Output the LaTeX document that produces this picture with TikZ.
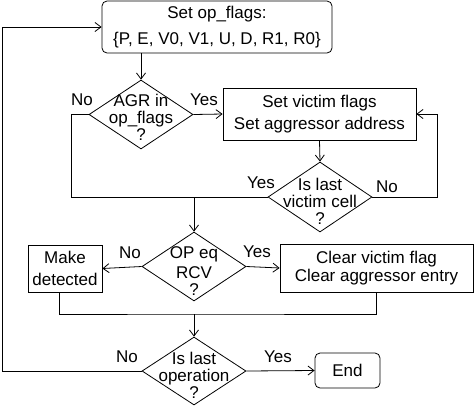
\documentclass[tikz,border=0pt]{standalone}
\usepackage{fontspec}
\setmainfont{Liberation Sans}
\usetikzlibrary{shapes.geometric,arrows.meta}

\begin{document}
\begin{tikzpicture}[x=1pt,y=-1pt,
    line width=0.8pt,
    box/.style={draw, rectangle, inner sep=0pt, align=center,
      font=\fontsize{17}{22}\selectfont},
    rbox/.style={box, rounded corners=5pt},
    dec/.style={draw, diamond, inner sep=0pt},
    dtxt/.style={inner sep=0pt, align=center,
      font=\fontsize{17}{17}\selectfont},
    lbl/.style={inner sep=0pt, font=\fontsize{17}{17}\selectfont},
    arr/.style={-{Straight Barb[length=6pt,width=9pt]}}]

  % Fix the size of the picture
  \useasboundingbox (0,0) rectangle (474,408);

  % Boxes
  \node[rbox, minimum width=230, minimum height=52] (ops) at (217,27)
    {Set op\_flags:\\[4pt] \{P, E, V0, V1, U, D, R1, R0\}};
  \node[box, minimum width=193, minimum height=52] (setv) at (319.5,114)
    {Set victim flags\\ Set aggressor address};
  \node[box, minimum width=74, minimum height=47] (make) at (65,268.5)
    {Make\\ detected};
  \node[box, minimum width=193, minimum height=48] (clr) at (376.5,268)
    {Clear victim flag\\[-4pt] Clear aggressor entry};
  \node[rbox, minimum width=65, minimum height=35] (end) at (347.5,370.5)
    {End};

  % Decisions
  \node[dec, minimum width=104, minimum height=69] (agr) at (141,114.5) {};
  \node[dec, minimum width=104, minimum height=70] (last) at (320,197) {};
  \node[dec, minimum width=104, minimum height=69] (rcv) at (194,266.5) {};
  \node[dec, minimum width=104, minimum height=68] (lastop) at (194,371) {};

  % Texts of the decisions
  \node[dtxt, yshift=-3pt] (agrtxt) at (agr) {AGR in\\ op\_flags\\ ?};
  \node[dtxt, yshift=-4pt] (lasttxt) at (last) {Is last\\ victim cell\\ ?};
  \node[dtxt, yshift=-5pt] (rcvtxt) at (rcv) {OP eq\\[3pt] RCV\\ ?};
  \node[dtxt, yshift=-4pt] (lastoptxt) at (lastop) {Is last\\ operation\\ ?};

  % Yes / No labels
  \node[lbl] (agrno) at (82,100) {No};
  \node[lbl] (agryes) at (204,100) {Yes};
  \node[lbl] (lastyes) at (261,183) {Yes};
  \node[lbl] (lastno) at (387,187) {No};
  \node[lbl] (rcvno) at (130,253) {No};
  \node[lbl] (rcvyes) at (257,252) {Yes};
  \node[lbl] (lastopno) at (127,357) {No};
  \node[lbl] (lastopyes) at (278,357) {Yes};

  % Join point above the last decision
  \coordinate (join) at (194,314);

  % Connectors
  \draw[arr] (ops.south -| agr.north) -- (agr.north);
  \draw[arr] (agr.east) -- (setv.west);
  \draw (agr.west) -- ++(-17,0) |- (last.west);
  \draw[arr] (rcv.north |- last.west) -- (rcv.north);
  \draw[arr] (setv.south) -- (last.north);
  \draw[arr] (last.east) -- ++(65,0) |- (setv.east);
  \draw[arr] (rcv.west) -- (make.east);
  \draw[arr] (rcv.east) -- (clr.west);
  \draw ([xshift=-6pt]make.south) |- (join) -| (clr.south);
  \draw[arr] (join) -- (lastop.north);
  \draw[arr] (lastop.east) -- (end.west);
  \draw[arr] (lastop.west) -- ++(-139,0) |- (ops.west);

\end{tikzpicture}
\end{document}
